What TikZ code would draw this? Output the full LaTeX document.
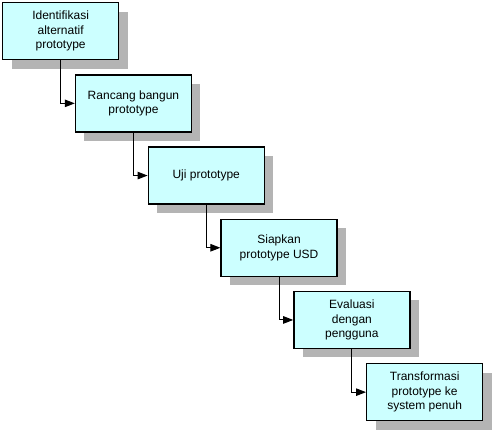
\documentclass[tikz,border=0pt]{standalone}
\usepackage{fontspec}
\setmainfont{Liberation Sans}
\usetikzlibrary{arrows.meta,shadows,calc}
\definecolor{boxfill}{HTML}{CCFFFF}
\definecolor{shadowgray}{HTML}{B4B4B4}
\begin{document}
\begin{tikzpicture}[x=1pt,y=-1pt,
  stepbox/.style={draw=black, line width=1.3pt, fill=boxfill,
    minimum width=116pt, minimum height=57pt, anchor=north west,
    align=center, inner sep=2pt, font=\fontsize{12pt}{14.5pt}\selectfont,
    drop shadow={shadow xshift=9pt, shadow yshift=-9pt, opacity=1, fill=shadowgray}},
  flow/.style={draw=black, line width=1pt, -{Triangle[length=10pt,width=7.5pt]}}]
\useasboundingbox (0,0) rectangle (493,432);
\node[stepbox] (b1) at (2,2) {Identifikasi\\alternatif\\prototype};
\node[stepbox] (b2) at (74.8,74.2) {Rancang bangun\\prototype};
\node[stepbox] (b3) at (147.6,146.4) {Uji prototype};
\node[stepbox] (b4) at (220.4,218.6) {Siapkan\\prototype USD};
\node[stepbox] (b5) at (293.2,290.8) {Evaluasi\\dengan\\pengguna};
\node[stepbox] (b6) at (366,363) {Transformasi\\prototype ke\\system penuh};
\draw[flow] (b1.south) |- (b2.west);
\draw[flow] (b2.south) |- (b3.west);
\draw[flow] (b3.south) |- (b4.west);
\draw[flow] (b4.south) |- (b5.west);
\draw[flow] (b5.south) |- (b6.west);
\end{tikzpicture}
\end{document}
